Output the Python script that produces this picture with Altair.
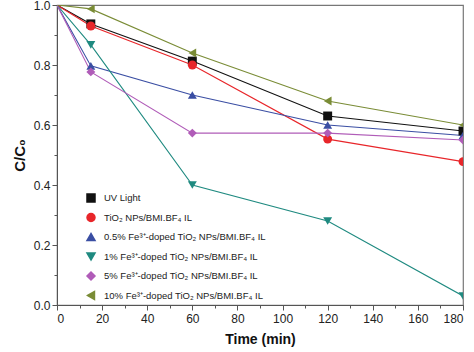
import altair as alt
import pandas as pd

times = [0, 15, 60, 120, 180]
series = [
    "UV Light",
    "TiO₂ NPs/BMI.BF₄ IL",
    "0.5% Fe³⁺-doped TiO₂ NPs/BMI.BF₄ IL",
    "1% Fe³⁺-doped TiO₂ NPs/BMI.BF₄ IL",
    "5% Fe³⁺-doped TiO₂ NPs/BMI.BF₄ IL",
    "10% Fe³⁺-doped TiO₂ NPs/BMI.BF₄ IL",
]
uv = [1.0, 0.937, 0.813, 0.63, 0.58]
tio2 = [1.0, 0.93, 0.80, 0.553, 0.478]
fe05 = [1.0, 0.797, 0.70, 0.60, 0.565]
fe1 = [1.0, 0.867, 0.40, 0.28, 0.03]
fe5 = [1.0, 0.777, 0.573, 0.573, 0.55]
fe10 = [1.0, 0.987, 0.84, 0.68, 0.60]
values = [uv, tio2, fe05, fe1, fe5, fe10]

colors = ["#111111", "#e8262a", "#3a4ea3", "#1f8a80", "#b05cb8", "#7a8c36"]
shapes = ["square", "circle", "triangle-up", "triangle-down", "diamond", "triangle-left"]

rows = []
for name, vals in zip(series, values):
    for t, v in zip(times, vals):
        rows.append({"time": t, "ratio": v, "series": name})
df = pd.DataFrame(rows)

x = alt.X(
    "time:Q",
    scale=alt.Scale(domain=[0, 180], nice=False),
    axis=alt.Axis(
        values=list(range(0, 181, 10)),
        labelExpr="datum.value % 20 == 0 ? datum.value : ''",
        tickSize={"condition": {"test": "datum.value % 20 != 0", "value": 3}, "value": 5},
        title="Time (min)",
        titleFontWeight="bold",
        titleFontSize=14,
        titlePadding=8,
        labelPadding=3,
        grid=False,
    ),
)
y = alt.Y(
    "ratio:Q",
    scale=alt.Scale(domain=[0, 1], nice=False),
    axis=alt.Axis(
        values=[i / 10 for i in range(11)],
        labelExpr="round(datum.value*10) % 2 == 1 ? '' : format(datum.value, '.1f')",
        tickSize={"condition": {"test": "round(datum.value*10) % 2 == 1", "value": 3}, "value": 5},
        title="C/C₀",
        titleFontWeight="bold",
        titleFontSize=15,
        titlePadding=6,
        labelPadding=2,
        grid=False,
    ),
)

leg = alt.Legend(
    title=None,
    orient="none",
    legendX=23,
    legendY=188,
    labelFont="Liberation Sans",
    labelFontSize=9.5,
    labelColor="#222222",
    symbolSize=64,
    symbolOffset=6,
    labelOffset=8,
    rowPadding=5.5,
    labelLimit=300,
)
color_scale = alt.Scale(domain=series, range=colors)

lines = alt.Chart(df).mark_line(strokeWidth=1.1, clip=True).encode(
    x=x, y=y,
    color=alt.Color("series:N", scale=color_scale, legend=leg),
    detail="series:N",
)
points = alt.Chart(df).transform_filter("datum.time > 0").mark_point(
    filled=True, size=80, opacity=1, clip=True
).encode(
    x=x, y=y,
    color=alt.Color("series:N", scale=color_scale, legend=leg),
    shape=alt.Shape("series:N", scale=alt.Scale(domain=series, range=shapes), legend=leg),
)

chart = (
    alt.layer(lines, points)
    .properties(
        width=406,
        height=300,
        autosize=alt.AutoSizeParams(type="none"),
        padding={"left": 57, "top": 5, "right": 11, "bottom": 47},
        background="white",
    )
    .configure_view(stroke="#777777", strokeWidth=1.2)
    .configure_axis(
        labelFont="Liberation Sans",
        titleFont="Liberation Sans",
        labelFontSize=12,
        labelColor="#222222",
        titleColor="#111111",
        domainColor="#555555",
        tickColor="#555555",
    )
)

chart.save("out.html", embed_options={"renderer": "svg", "actions": False})
